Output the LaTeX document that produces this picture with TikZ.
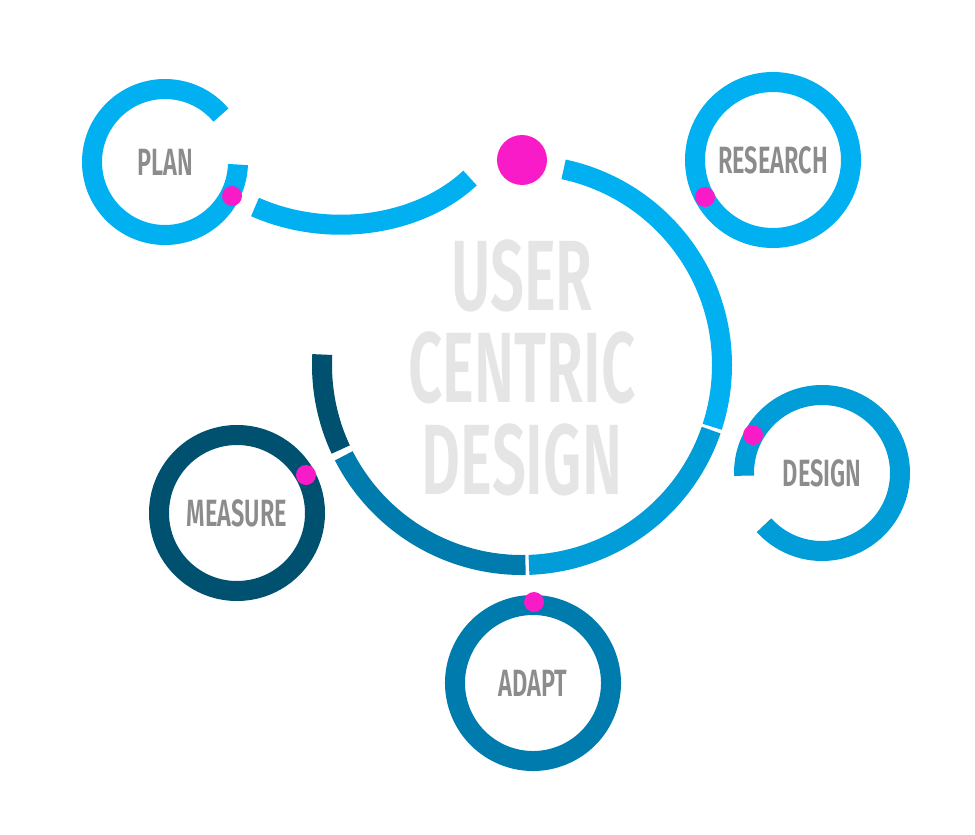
\documentclass[tikz,border=0pt]{standalone}
\usepackage{fontspec}
\newfontfamily\titlef{Fira Sans SemiBold}[FakeStretch=0.6]
\newfontfamily\labf{Fira Sans SemiBold}[FakeStretch=0.62]
\begin{document}
\begin{tikzpicture}[x=1pt,y=-1pt,
  ring/.style={line width=20pt},
  lab/.style={text=black!45,font=\labf\fontsize{38}{38}\selectfont},
  dot/.style={circle,inner sep=0pt,minimum size=20pt}]
\definecolor{cA}{HTML}{00B0F0}\definecolor{cB}{HTML}{009DD9}
\definecolor{cC}{HTML}{007BAD}\definecolor{cD}{HTML}{00506F}
\definecolor{pk}{HTML}{FA1BC8}
\useasboundingbox (0,0) rectangle (975,835);
\coordinate (m) at (522,365);
% main ring segments
\draw[ring,cA] (m) ++(-78:200) arc[start angle=-78,end angle=18,radius=200];
\draw[ring,cB] (m) ++(19:200) arc[start angle=19,end angle=88,radius=200];
\draw[ring,cC] (m) ++(89:200) arc[start angle=89,end angle=153,radius=200];
\draw[ring,cD] (m) ++(155:200) arc[start angle=155,end angle=183,radius=200];
% connecting curve to PLAN
\coordinate (c1) at (255,207); \coordinate (c2) at (470,178);
\draw[ring,cA] (c1) .. controls (330,240) and (420,225) .. (c2);
% small rings
\coordinate (p) at (165,162); \coordinate (r) at (773,160);
\coordinate (d) at (822,473); \coordinate (a) at (533,683); \coordinate (s) at (237,513);
\draw[ring,cA] (p) ++(2:73) arc[start angle=2,end angle=320,radius=73];
\draw[ring,cA] (r) ++(-228:78) arc[start angle=-228,end angle=190,radius=78];
\draw[ring,cB] (d) ++(-182:78) arc[start angle=-182,end angle=138,radius=78];
\draw[ring,cC] (a) ++(-110:78) arc[start angle=-110,end angle=293,radius=78];
\draw[ring,cD] (s) ++(-52:78) arc[start angle=-52,end angle=344,radius=78];
% labels
\node[lab] (tp) at (p) {PLAN};
\node[lab] (tr) at (773,160) {RESEARCH};
\node[lab] (td) at (822,473) {DESIGN};
\node[lab] (ta) at (533,683) {ADAPT};
\node[lab] (ts) at (237,513) {MEASURE};
\node[text=black!10,font=\titlef\fontsize{100}{100}\selectfont,align=center] (t) at (522,368)
  {USER\\[-8pt]CENTRIC\\[-8pt]DESIGN};
% dots
\node[dot,fill=pk,minimum size=50pt] (d0) at (522,160) {};
\node[dot,fill=pk] (d1) at (232,196) {};
\node[dot,fill=pk] (d2) at (705,197) {};
\node[dot,fill=pk] (d3) at (753,435) {};
\node[dot,fill=pk] (d4) at (306,475) {};
\node[dot,fill=pk] (d5) at (534,602) {};
\end{tikzpicture}
\end{document}
